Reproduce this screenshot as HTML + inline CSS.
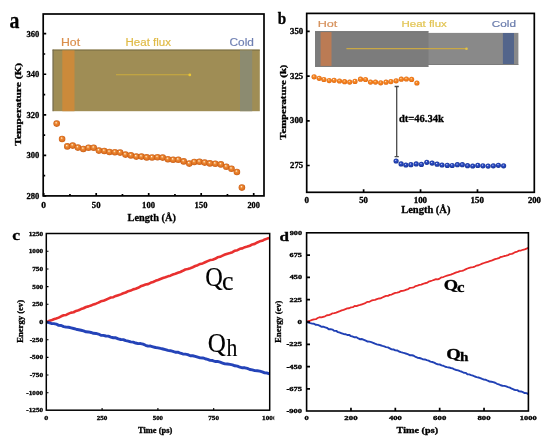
<!DOCTYPE html>
<html><head><meta charset="utf-8"><style>
html,body{margin:0;padding:0;background:#fff;}
svg{display:block;will-change:transform;}
.b{font-family:"Liberation Serif",serif;font-weight:700;}
.r{font-family:"Liberation Serif",serif;font-weight:400;}
.s{font-family:"Liberation Sans",sans-serif;font-weight:400;}
</style></head><body>
<svg width="550" height="442" viewBox="0 0 550 442">
<rect width="550" height="442" fill="#fff"/>
<defs>
<radialGradient id="go" cx="0.5" cy="0.5" r="0.5" fx="0.4" fy="0.33">
<stop offset="0" stop-color="#ffffff"/><stop offset="0.12" stop-color="#fbd2a6"/><stop offset="0.36" stop-color="#ec8a35"/><stop offset="0.78" stop-color="#de7020"/><stop offset="1" stop-color="#c45c16"/></radialGradient>
<radialGradient id="go2" cx="0.5" cy="0.5" r="0.5" fx="0.4" fy="0.33">
<stop offset="0" stop-color="#fff2e0"/><stop offset="0.14" stop-color="#fbbf85"/><stop offset="0.36" stop-color="#f48a2c"/><stop offset="0.8" stop-color="#ef7715"/><stop offset="1" stop-color="#d96610"/></radialGradient>
<radialGradient id="gb" cx="0.5" cy="0.5" r="0.5" fx="0.4" fy="0.33">
<stop offset="0" stop-color="#ffffff"/><stop offset="0.14" stop-color="#9aa8ec"/><stop offset="0.36" stop-color="#2d4cc2"/><stop offset="0.8" stop-color="#1f3eaa"/><stop offset="1" stop-color="#16318e"/></radialGradient>
</defs>
<rect x="52.6" y="49.6" width="207.2" height="61.6" fill="#9f8d55"/>
<rect x="52.6" y="49.6" width="207.2" height="1" fill="#7a6e45"/>
<rect x="52.6" y="49.6" width="0.9" height="61.6" fill="#6a6450"/>
<rect x="62.3" y="50.4" width="12.2" height="60.8" fill="#cb8a3b"/>
<rect x="240" y="50.4" width="12.2" height="60.8" fill="#8c8b70"/>
<line x1="116" y1="74.8" x2="189.5" y2="74.8" stroke="#cbad3e" stroke-width="1.1"/>
<circle cx="189.8" cy="74.9" r="1.4" fill="#ebc634"/>
<path d="M43.2 195.9h3 M43.2 175.62h2 M43.2 155.35h3 M43.2 135.08h2 M43.2 114.8h3 M43.2 94.53h2 M43.2 74.25h3 M43.2 53.98h2 M43.2 33.7h3 M43.7 195.9v-3 M69.95 195.9v-2 M96.2 195.9v-3 M122.45 195.9v-2 M148.7 195.9v-3 M174.95 195.9v-2 M201.2 195.9v-3 M227.45 195.9v-2 M253.7 195.9v-3" stroke="#000" stroke-width="1.7" fill="none"/>
<rect x="43.2" y="14.0" width="220.8" height="181.9" fill="none" stroke="#000" stroke-width="1.7"/>
<circle cx="56.7" cy="123.6" r="3.3" fill="url(#go)"/>
<circle cx="62.1" cy="139" r="3.3" fill="url(#go)"/>
<circle cx="67.3" cy="146.4" r="3.3" fill="url(#go)"/>
<circle cx="72.7" cy="145.6" r="3.3" fill="url(#go)"/>
<circle cx="77.9" cy="147.6" r="3.3" fill="url(#go)"/>
<circle cx="83.3" cy="149" r="3.3" fill="url(#go)"/>
<circle cx="88.5" cy="147.8" r="3.3" fill="url(#go)"/>
<circle cx="93.7" cy="147.8" r="3.3" fill="url(#go)"/>
<circle cx="98.9" cy="150.6" r="3.3" fill="url(#go)"/>
<circle cx="104.3" cy="151" r="3.3" fill="url(#go)"/>
<circle cx="109.5" cy="152" r="3.3" fill="url(#go)"/>
<circle cx="114.9" cy="152.2" r="3.3" fill="url(#go)"/>
<circle cx="120.1" cy="152.6" r="3.3" fill="url(#go)"/>
<circle cx="125.5" cy="154.6" r="3.3" fill="url(#go)"/>
<circle cx="130.9" cy="155.4" r="3.3" fill="url(#go)"/>
<circle cx="136.3" cy="156.6" r="3.3" fill="url(#go)"/>
<circle cx="141.5" cy="156.6" r="3.3" fill="url(#go)"/>
<circle cx="146.7" cy="157.4" r="3.3" fill="url(#go)"/>
<circle cx="152.1" cy="157.5" r="3.3" fill="url(#go)"/>
<circle cx="157.5" cy="157.2" r="3.3" fill="url(#go)"/>
<circle cx="162.7" cy="157.6" r="3.3" fill="url(#go)"/>
<circle cx="167.9" cy="159.2" r="3.3" fill="url(#go)"/>
<circle cx="173.1" cy="159.8" r="3.3" fill="url(#go)"/>
<circle cx="178.3" cy="159.8" r="3.3" fill="url(#go)"/>
<circle cx="183.7" cy="161.4" r="3.3" fill="url(#go)"/>
<circle cx="189.3" cy="163.6" r="3.3" fill="url(#go)"/>
<circle cx="194.3" cy="162" r="3.3" fill="url(#go)"/>
<circle cx="199.5" cy="161.8" r="3.3" fill="url(#go)"/>
<circle cx="204.7" cy="162.6" r="3.3" fill="url(#go)"/>
<circle cx="209.9" cy="163.4" r="3.3" fill="url(#go)"/>
<circle cx="215.3" cy="163.8" r="3.3" fill="url(#go)"/>
<circle cx="220.9" cy="164.4" r="3.3" fill="url(#go)"/>
<circle cx="226.3" cy="166.8" r="3.3" fill="url(#go)"/>
<circle cx="231.5" cy="168.8" r="3.3" fill="url(#go)"/>
<circle cx="236.9" cy="172" r="3.3" fill="url(#go)"/>
<circle cx="241.9" cy="187.6" r="3.3" fill="url(#go)"/>
<rect x="428" y="32.9" width="90.4" height="31.9" fill="#898989"/><rect x="428" y="64" width="90.4" height="0.8" fill="#727272"/>
<rect x="315.0" y="31.3" width="113.5" height="35.4" fill="#7c7c7c"/><rect x="315.0" y="31.3" width="113.5" height="0.8" fill="#6c6c6c"/><rect x="315.0" y="65.9" width="113.5" height="0.8" fill="#6c6c6c"/>
<rect x="320.6" y="32.1" width="10.9" height="33.8" fill="#bb7b54"/>
<rect x="502.9" y="33" width="11.1" height="31" fill="#53658b"/>
<line x1="346.4" y1="48.6" x2="466.3" y2="48.6" stroke="#c9a845" stroke-width="1.1"/>
<circle cx="466.5" cy="48.8" r="1.3" fill="#e3c448"/>
<path d="M306.7 31.47h3 M306.7 76.15h3 M306.7 120.83h3 M306.7 165.5h3 M363.62 192.3v-3 M420.55 192.3v-3 M477.48 192.3v-3" stroke="#000" stroke-width="1.7" fill="none"/>
<rect x="306.7" y="13.4" width="227.6" height="178.9" fill="none" stroke="#000" stroke-width="1.7"/>
<path d="M396.7 86.5V156.6M394.6 86.5h4.2M394.6 156.6h4.2" stroke="#4a4a4a" stroke-width="1.3" fill="none"/>
<circle cx="314.1" cy="76.8" r="2.6" fill="url(#go2)"/>
<circle cx="319.2" cy="78.3" r="2.6" fill="url(#go2)"/>
<circle cx="323.9" cy="79.5" r="2.6" fill="url(#go2)"/>
<circle cx="329.2" cy="80.6" r="2.6" fill="url(#go2)"/>
<circle cx="334.1" cy="80.3" r="2.6" fill="url(#go2)"/>
<circle cx="339.5" cy="81" r="2.6" fill="url(#go2)"/>
<circle cx="344.6" cy="81.7" r="2.6" fill="url(#go2)"/>
<circle cx="349.7" cy="82.1" r="2.6" fill="url(#go2)"/>
<circle cx="355" cy="81.4" r="2.6" fill="url(#go2)"/>
<circle cx="360.5" cy="79.2" r="2.6" fill="url(#go2)"/>
<circle cx="365.5" cy="79.5" r="2.6" fill="url(#go2)"/>
<circle cx="370.5" cy="82.1" r="2.6" fill="url(#go2)"/>
<circle cx="375.5" cy="82.1" r="2.6" fill="url(#go2)"/>
<circle cx="380.7" cy="82.8" r="2.6" fill="url(#go2)"/>
<circle cx="386" cy="82.2" r="2.6" fill="url(#go2)"/>
<circle cx="390.9" cy="81.6" r="2.6" fill="url(#go2)"/>
<circle cx="396.1" cy="80.8" r="2.6" fill="url(#go2)"/>
<circle cx="401.3" cy="79.2" r="2.6" fill="url(#go2)"/>
<circle cx="406.4" cy="79" r="2.6" fill="url(#go2)"/>
<circle cx="411.6" cy="79.4" r="2.6" fill="url(#go2)"/>
<circle cx="416.9" cy="83" r="2.6" fill="url(#go2)"/>
<circle cx="396.1" cy="161" r="2.6" fill="url(#gb)"/>
<circle cx="401.1" cy="163.9" r="2.6" fill="url(#gb)"/>
<circle cx="405.9" cy="165" r="2.6" fill="url(#gb)"/>
<circle cx="410.9" cy="164.7" r="2.6" fill="url(#gb)"/>
<circle cx="416.2" cy="163.9" r="2.6" fill="url(#gb)"/>
<circle cx="421.4" cy="164.4" r="2.6" fill="url(#gb)"/>
<circle cx="426.8" cy="162.3" r="2.6" fill="url(#gb)"/>
<circle cx="432.1" cy="163.1" r="2.6" fill="url(#gb)"/>
<circle cx="437.1" cy="164.2" r="2.6" fill="url(#gb)"/>
<circle cx="442" cy="165" r="2.6" fill="url(#gb)"/>
<circle cx="447.3" cy="165.4" r="2.6" fill="url(#gb)"/>
<circle cx="452.2" cy="165.5" r="2.6" fill="url(#gb)"/>
<circle cx="457.4" cy="164.7" r="2.6" fill="url(#gb)"/>
<circle cx="462.3" cy="164.7" r="2.6" fill="url(#gb)"/>
<circle cx="467.5" cy="165.7" r="2.6" fill="url(#gb)"/>
<circle cx="472.7" cy="166" r="2.6" fill="url(#gb)"/>
<circle cx="477.8" cy="165.4" r="2.6" fill="url(#gb)"/>
<circle cx="482.9" cy="165.8" r="2.6" fill="url(#gb)"/>
<circle cx="488.1" cy="166.1" r="2.6" fill="url(#gb)"/>
<circle cx="493.3" cy="165.8" r="2.6" fill="url(#gb)"/>
<circle cx="498.4" cy="165.3" r="2.6" fill="url(#gb)"/>
<circle cx="503.6" cy="165.8" r="2.6" fill="url(#gb)"/>
<polyline points="46.3,322.2 48.78,321.08 51.26,320.36 53.75,319.3 56.23,318.53 58.71,317.6 61.19,316.28 63.68,315.3 66.16,314.94 68.64,313.6 71.12,312.65 73.6,312.24 76.09,310.94 78.57,310.26 81.05,309.07 83.53,308.25 86.02,306.97 88.5,306.37 90.98,305.6 93.46,304.42 95.94,303.64 98.43,302.65 100.91,301.29 103.39,300.84 105.87,299.78 108.36,298.64 110.84,297.52 113.32,297.17 115.8,295.95 118.28,295.19 120.77,294.37 123.25,293.31 125.73,292.52 128.21,291.22 130.7,290.56 133.18,289.38 135.66,288.78 138.14,287.81 140.62,286.32 143.11,285.42 145.59,284.54 148.07,284.12 150.55,282.82 153.04,282.01 155.52,280.85 158,280.06 160.48,279.03 162.96,278.07 165.45,277.3 167.93,276.36 170.41,275.65 172.89,274.56 175.38,273.79 177.86,272.81 180.34,271.96 182.82,270.8 185.3,269.51 187.79,269.06 190.27,268.2 192.75,267.22 195.23,266.05 197.72,265.21 200.2,263.92 202.68,263.42 205.16,262.3 207.64,261.17 210.13,260.07 212.61,259.69 215.09,258.85 217.57,257.28 220.06,256.84 222.54,255.63 225.02,254.52 227.5,253.68 229.98,253.07 232.47,252.21 234.95,250.69 237.43,250.16 239.91,248.82 242.4,248.36 244.88,247.15 247.36,246.6 249.84,245.73 252.32,244.46 254.81,243.87 257.29,242.45 259.77,241.35 262.25,240.78 264.74,239.45 267.22,238.62 269.7,237.9" fill="none" stroke="#e8302f" stroke-width="2.6" stroke-linejoin="round"/>
<polyline points="46.3,322.2 48.78,322.69 51.26,323.45 53.75,323.61 56.23,324.08 58.71,325.4 61.19,325.47 63.68,326.63 66.16,327.14 68.64,327.25 71.12,327.9 73.6,328.52 76.09,329.21 78.57,329.74 81.05,330.28 83.53,330.91 86.02,331.77 88.5,331.95 90.98,332.46 93.46,333.29 95.94,333.43 98.43,334.06 100.91,335.24 103.39,335.41 105.87,336 108.36,336.09 110.84,337.03 113.32,337.75 115.8,337.82 118.28,338.93 120.77,339.52 123.25,339.58 125.73,340.66 128.21,341.09 130.7,341.85 133.18,342.13 135.66,343.03 138.14,343.63 140.62,343.56 143.11,344.16 145.59,345.29 148.07,346.12 150.55,346.06 153.04,346.81 155.52,347.51 158,347.84 160.48,348.45 162.96,348.98 165.45,349.6 167.93,350.38 170.41,350.69 172.89,351.33 175.38,352.26 177.86,352.16 180.34,353.22 182.82,353.94 185.3,354.14 187.79,354.63 190.27,355.73 192.75,355.79 195.23,356.32 197.72,357.12 200.2,357.92 202.68,357.96 205.16,358.73 207.64,359.32 210.13,360.34 212.61,360.56 215.09,361.51 217.57,361.46 220.06,362.19 222.54,363.04 225.02,363.83 227.5,364.01 229.98,364.38 232.47,364.86 234.95,365.8 237.43,366.07 239.91,367.2 242.4,367.8 244.88,367.78 247.36,368.44 249.84,369.49 252.32,369.91 254.81,370.64 257.29,370.79 259.77,371.17 262.25,371.89 264.74,372.92 267.22,373.02 269.7,373.8" fill="none" stroke="#2443b8" stroke-width="2.9" stroke-linejoin="round"/>
<path d="M46.3 392.72h2.2 M46.3 375.04h2.2 M46.3 357.36h2.2 M46.3 339.68h2.2 M46.3 322h2.2 M46.3 304.32h2.2 M46.3 286.64h2.2 M46.3 268.96h2.2 M46.3 251.28h2.2 M102.1 410.2v-2.2 M157.9 410.2v-2.2 M213.7 410.2v-2.2" stroke="#000" stroke-width="1.1" fill="none"/>
<rect x="46.3" y="233.5" width="223.4" height="176.7" fill="none" stroke="#000" stroke-width="1.5"/>
<text class="s" font-size="11.71" transform="matrix(1.05149 0 0 1.00037 60.915 46.183)" fill="#db8f4c" stroke="#db8f4c" stroke-width="0.2">Hot</text>
<text class="s" font-size="11.29" transform="matrix(1.02245 0 0 1.00022 125.477 46.387)" fill="#e0bb48" stroke="#e0bb48" stroke-width="0.2">Heat flux</text>
<text class="s" font-size="11.7" transform="matrix(1.01331 0 0 1.00006 229.507 46.183)" fill="#6e7fb2" stroke="#6e7fb2" stroke-width="0.2">Cold</text>
<text class="b" font-size="8.89" transform="matrix(0.96643 0 0 0.99988 26.456 198.811)" stroke="#000" stroke-width="0.3">280</text>
<text class="b" font-size="8.89" transform="matrix(0.96643 0 0 0.99988 26.456 158.261)" stroke="#000" stroke-width="0.3">300</text>
<text class="b" font-size="8.89" transform="matrix(0.96643 0 0 0.99988 26.456 117.711)" stroke="#000" stroke-width="0.3">320</text>
<text class="b" font-size="8.89" transform="matrix(0.96643 0 0 0.99988 26.456 77.161)" stroke="#000" stroke-width="0.3">340</text>
<text class="b" font-size="8.89" transform="matrix(0.96643 0 0 0.99988 26.456 36.611)" stroke="#000" stroke-width="0.3">360</text>
<text class="b" font-size="8.44" transform="matrix(1.12841 0 0 1.00053 41.319 207.916)" stroke="#000" stroke-width="0.3">0</text>
<text class="b" font-size="8.44" transform="matrix(1.03029 0 0 1.00053 91.852 207.916)" stroke="#000" stroke-width="0.3">50</text>
<text class="b" font-size="8.44" transform="matrix(1.01312 0 0 1.00053 142.116 207.916)" stroke="#000" stroke-width="0.3">100</text>
<text class="b" font-size="8.44" transform="matrix(1.01312 0 0 1.00053 194.616 207.916)" stroke="#000" stroke-width="0.3">150</text>
<text class="b" font-size="8.44" transform="matrix(0.98458 0 0 1.00053 247.468 207.916)" stroke="#000" stroke-width="0.3">200</text>
<text class="b" font-size="10.95" transform="matrix(0.94181 0 0 1.00022 127.545 221.090)" stroke="#000" stroke-width="0.3">Length (&#197;)</text>
<text class="b" font-size="7.44" transform="matrix(0 -1.53850 1.00060 0 21.137 145.672)" stroke="#000" stroke-width="0.3">Temperature (K)</text>
<text class="b" font-size="23.79" transform="matrix(0.83145 0 0 0.99998 9.407 27.981)" stroke="#000" stroke-width="0.3">a</text>
<text class="s" font-size="9.86" transform="matrix(1.28327 0 0 0.99971 317.688 27.201)" fill="#d6915c" stroke="#d6915c" stroke-width="0.2">Hot</text>
<text class="s" font-size="9.52" transform="matrix(1.20710 0 0 1.00040 401.481 27.305)" fill="#e2c452" stroke="#e2c452" stroke-width="0.2">Heat flux</text>
<text class="s" font-size="9.66" transform="matrix(1.21662 0 0 0.99999 491.812 27.103)" fill="#6a7cac" stroke="#6a7cac" stroke-width="0.2">Cold</text>
<text class="b" font-size="7.7" transform="matrix(1.14322 0 0 1.00048 290.048 33.998)" stroke="#000" stroke-width="0.3">350</text>
<text class="b" font-size="7.76" transform="matrix(1.13040 0 0 1.00015 290.049 78.672)" stroke="#000" stroke-width="0.3">325</text>
<text class="b" font-size="7.7" transform="matrix(1.14322 0 0 1.00048 290.048 123.348)" stroke="#000" stroke-width="0.3">300</text>
<text class="b" font-size="7.76" transform="matrix(1.13040 0 0 1.00015 290.049 168.022)" stroke="#000" stroke-width="0.3">275</text>
<text class="b" font-size="7.41" transform="matrix(1.22100 0 0 0.99965 304.438 202.726)" stroke="#000" stroke-width="0.3">0</text>
<text class="b" font-size="7.41" transform="matrix(1.17350 0 0 0.99965 359.277 202.726)" stroke="#000" stroke-width="0.3">50</text>
<text class="b" font-size="7.41" transform="matrix(1.20284 0 0 0.99965 413.687 202.726)" stroke="#000" stroke-width="0.3">100</text>
<text class="b" font-size="7.41" transform="matrix(1.20284 0 0 0.99965 470.612 202.726)" stroke="#000" stroke-width="0.3">150</text>
<text class="b" font-size="7.41" transform="matrix(1.16896 0 0 0.99965 527.904 202.726)" stroke="#000" stroke-width="0.3">200</text>
<text class="b" font-size="10.48" transform="matrix(1.00258 0 0 0.99964 401.142 212.995)" stroke="#000" stroke-width="0.3">Length (&#197;)</text>
<text class="b" font-size="8.0" transform="matrix(0 -1.33967 1.00000 0 285.720 139.761)" stroke="#000" stroke-width="0.3">Temperature (k)</text>
<text class="b" font-size="16.71" transform="matrix(0.90963 0 0 1.00026 277.772 24.033)" stroke="#000" stroke-width="0.3">b</text>
<text class="b" font-size="10.78" transform="matrix(0.98144 0 0 1.00001 398.877 121.538)" stroke="#000" stroke-width="0.3">dt=46.34k</text>
<text class="b" font-size="6.37" transform="matrix(1.13224 0 0 1.00006 26.348 412.486)" stroke="#000" stroke-width="0.3">-1250</text>
<text class="b" font-size="6.37" transform="matrix(1.13224 0 0 1.00006 26.348 394.806)" stroke="#000" stroke-width="0.3">-1000</text>
<text class="b" font-size="6.37" transform="matrix(1.15955 0 0 1.00006 29.641 377.126)" stroke="#000" stroke-width="0.3">-750</text>
<text class="b" font-size="6.37" transform="matrix(1.15955 0 0 1.00006 29.641 359.446)" stroke="#000" stroke-width="0.3">-500</text>
<text class="b" font-size="6.37" transform="matrix(1.15955 0 0 1.00006 29.641 341.766)" stroke="#000" stroke-width="0.3">-250</text>
<text class="b" font-size="6.37" transform="matrix(1.27084 0 0 1.00006 39.176 324.086)" stroke="#000" stroke-width="0.3">0</text>
<text class="b" font-size="6.37" transform="matrix(1.13870 0 0 1.00006 32.310 306.406)" stroke="#000" stroke-width="0.3">250</text>
<text class="b" font-size="6.37" transform="matrix(1.13870 0 0 1.00006 32.310 288.726)" stroke="#000" stroke-width="0.3">500</text>
<text class="b" font-size="6.37" transform="matrix(1.15086 0 0 1.00006 32.197 271.046)" stroke="#000" stroke-width="0.3">750</text>
<text class="b" font-size="6.37" transform="matrix(1.13564 0 0 1.00006 28.721 253.366)" stroke="#000" stroke-width="0.3">1000</text>
<text class="b" font-size="6.37" transform="matrix(1.13564 0 0 1.00006 28.721 235.686)" stroke="#000" stroke-width="0.3">1250</text>
<text class="b" font-size="6.81" transform="matrix(1.18873 0 0 1.00071 44.276 419.932)" stroke="#000" stroke-width="0.3">0</text>
<text class="b" font-size="6.81" transform="matrix(1.04445 0 0 1.00071 96.765 419.932)" stroke="#000" stroke-width="0.3">250</text>
<text class="b" font-size="6.81" transform="matrix(1.01342 0 0 1.00071 152.724 419.932)" stroke="#000" stroke-width="0.3">500</text>
<text class="b" font-size="6.81" transform="matrix(1.05560 0 0 1.00071 208.255 419.932)" stroke="#000" stroke-width="0.3">750</text>
<text class="b" font-size="6.81" transform="matrix(1.06227 0 0 1.00071 262.121 419.932)" stroke="#000" stroke-width="0.3">1000</text>
<text class="b" font-size="8.11" transform="matrix(1.03754 0 0 1.00014 138.074 432.697)" stroke="#000" stroke-width="0.3">Time (ps)</text>
<text class="b" font-size="8.02" transform="matrix(0 -1.07674 1.00025 0 22.935 342.830)" stroke="#000" stroke-width="0.3">Energy (ev)</text>
<text class="b" font-size="15.62" transform="matrix(1.13075 0 0 1.00032 12.282 240.444)" stroke="#000" stroke-width="0.3">c</text>
<text class="r" font-size="26.59" transform="matrix(0.91617 0 0 0.99983 205.126 286.346)" stroke="#000" stroke-width="0.15">Q</text>
<text class="r" font-size="26.46" transform="matrix(0.97758 0 0 0.99994 221.965 289.735)" stroke="#000" stroke-width="0.15">c</text>
<text class="r" font-size="26.95" transform="matrix(0.93183 0 0 1.00005 207.695 352.488)" stroke="#000" stroke-width="0.15">Q</text>
<text class="r" font-size="24.64" transform="matrix(0.88004 0 0 0.99991 226.383 355.923)" stroke="#000" stroke-width="0.15">h</text>
<rect x="274.3" y="405" width="8" height="37" fill="#fff"/>
<polyline points="306.6,321.8 308.45,321.09 310.3,320.55 312.15,319.96 313.99,319.36 315.84,319.18 317.69,317.98 319.54,317.26 321.39,317.42 323.24,316.78 325.08,316.27 326.93,315.24 328.78,315.06 330.63,314.45 332.48,313.29 334.33,313.12 336.17,312.6 338.02,311.86 339.87,311.15 341.72,310.38 343.57,309.82 345.42,309.14 347.26,308.41 349.11,308.23 350.96,307.4 352.81,307.22 354.66,306.01 356.5,306.1 358.35,305.33 360.2,304.92 362.05,304.3 363.9,303.7 365.75,302.84 367.6,301.79 369.44,301.78 371.29,300.72 373.14,300.22 374.99,299.91 376.84,299.19 378.69,298.5 380.53,298.32 382.38,297.45 384.23,296.63 386.08,295.95 387.93,295.83 389.77,294.92 391.62,294.55 393.47,293.6 395.32,292.87 397.17,292.53 399.02,292.14 400.87,291.02 402.71,290.9 404.56,290.39 406.41,289.69 408.26,289.09 410.11,287.82 411.95,287.7 413.8,287.27 415.65,286.01 417.5,285.57 419.35,284.95 421.2,284.54 423.05,283.83 424.89,283.25 426.74,282.88 428.59,281.63 430.44,281.05 432.29,280.49 434.13,279.86 435.98,279.2 437.83,279.3 439.68,278.57 441.53,277.33 443.38,277.04 445.23,276.26 447.07,275.64 448.92,275.04 450.77,274.64 452.62,273.97 454.47,273.15 456.31,272.39 458.16,271.87 460.01,271.07 461.86,270.78 463.71,270.28 465.56,269.38 467.4,268.5 469.25,267.95 471.1,267.47 472.95,267.02 474.8,266.52 476.65,265.56 478.5,265.26 480.34,264.48 482.19,263.69 484.04,263.01 485.89,262.47 487.74,261.99 489.58,261.13 491.43,260.71 493.28,259.88 495.13,259.07 496.98,258.66 498.83,258.14 500.67,257 502.52,256.64 504.37,256 506.22,255.72 508.07,255.13 509.92,254.03 511.76,253.81 513.61,253.08 515.46,252.01 517.31,251.53 519.16,250.62 521.01,250.53 522.86,249.76 524.7,249.3 526.55,248.58 528.4,247.7" fill="none" stroke="#e82a2a" stroke-width="1.8" stroke-linejoin="round"/>
<polyline points="306.6,321.8 308.45,322.54 310.3,323.18 312.15,323.62 313.99,323.79 315.84,324.81 317.69,324.88 319.54,325.59 321.39,326.74 323.24,326.67 325.08,327.3 326.93,327.9 328.78,329.19 330.63,329.14 332.48,329.59 334.33,330.92 336.17,330.86 338.02,332.09 339.87,332.53 341.72,333.26 343.57,333.96 345.42,334.21 347.26,335 349.11,334.9 350.96,336.15 352.81,336.51 354.66,337.28 356.5,337.32 358.35,338.49 360.2,339.25 362.05,339.06 363.9,339.88 365.75,340.69 367.6,341.52 369.44,341.59 371.29,342.12 373.14,342.78 374.99,343.7 376.84,344.42 378.69,344.69 380.53,345.26 382.38,345.88 384.23,346.44 386.08,347.09 387.93,347.39 389.77,348.36 391.62,349.38 393.47,349.47 395.32,350.37 397.17,350.44 399.02,351.52 400.87,352.17 402.71,352.7 404.56,353.16 406.41,353.73 408.26,354.47 410.11,355.3 411.95,355.23 413.8,355.78 415.65,356.97 417.5,357.72 419.35,357.97 421.2,358.5 423.05,359.36 424.89,359.48 426.74,360.16 428.59,360.7 430.44,361.65 432.29,362.02 434.13,362.55 435.98,363.57 437.83,364.41 439.68,364.43 441.53,365.4 443.38,365.75 445.23,366.75 447.07,367.12 448.92,367.44 450.77,368.01 452.62,368.44 454.47,369.46 456.31,369.99 458.16,370.41 460.01,371.19 461.86,371.76 463.71,372.78 465.56,372.83 467.4,374.2 469.25,374.36 471.1,375.08 472.95,375.57 474.8,376.52 476.65,377.12 478.5,377.49 480.34,378.04 482.19,378.87 484.04,379.61 485.89,379.81 487.74,380.73 489.58,381.55 491.43,381.72 493.28,382.12 495.13,382.74 496.98,383.8 498.83,384.37 500.67,385.25 502.52,385.77 504.37,385.84 506.22,386.41 508.07,387.08 509.92,387.64 511.76,388.72 513.61,389.48 515.46,390.13 517.31,390.17 519.16,391.34 521.01,391.46 522.86,392.18 524.7,393.07 526.55,393.11 528.4,394.1" fill="none" stroke="#2040b4" stroke-width="1.9" stroke-linejoin="round"/>
<path d="M306.6 388.96h3.4 M306.6 366.64h3.4 M306.6 344.32h3.4 M306.6 322h3.4 M306.6 299.68h3.4 M306.6 277.36h3.4 M306.6 255.04h3.4 M350.96 411v-3.2 M395.32 411v-3.2 M439.68 411v-3.2 M484.04 411v-3.2" stroke="#000" stroke-width="1.7" fill="none"/>
<rect x="306.6" y="232.8" width="221.8" height="178.2" fill="none" stroke="#000" stroke-width="1.6"/>
<text class="b" font-size="6.07" transform="matrix(1.40407 0 0 1.00067 286.402 413.269)" stroke="#000" stroke-width="0.3">-900</text>
<text class="b" font-size="6.12" transform="matrix(1.39260 0 0 0.99990 286.402 390.949)" stroke="#000" stroke-width="0.3">-675</text>
<text class="b" font-size="6.07" transform="matrix(1.40407 0 0 1.00067 286.402 368.629)" stroke="#000" stroke-width="0.3">-450</text>
<text class="b" font-size="6.12" transform="matrix(1.39260 0 0 0.99990 286.402 346.309)" stroke="#000" stroke-width="0.3">-225</text>
<text class="b" font-size="6.07" transform="matrix(1.49055 0 0 1.00067 297.538 323.989)" stroke="#000" stroke-width="0.3">0</text>
<text class="b" font-size="6.12" transform="matrix(1.35306 0 0 0.99990 289.569 301.669)" stroke="#000" stroke-width="0.3">225</text>
<text class="b" font-size="6.07" transform="matrix(1.34532 0 0 1.00067 289.778 279.349)" stroke="#000" stroke-width="0.3">450</text>
<text class="b" font-size="6.12" transform="matrix(1.34832 0 0 0.99990 289.611 257.029)" stroke="#000" stroke-width="0.3">675</text>
<text class="b" font-size="6.07" transform="matrix(1.35943 0 0 1.00067 289.652 234.709)" stroke="#000" stroke-width="0.3">900</text>
<text class="b" font-size="5.93" transform="matrix(1.44543 0 0 0.99931 304.457 419.841)" stroke="#000" stroke-width="0.3">0</text>
<text class="b" font-size="5.93" transform="matrix(1.48445 0 0 0.99931 344.358 419.841)" stroke="#000" stroke-width="0.3">200</text>
<text class="b" font-size="5.93" transform="matrix(1.45877 0 0 0.99931 388.940 419.841)" stroke="#000" stroke-width="0.3">400</text>
<text class="b" font-size="5.93" transform="matrix(1.47925 0 0 0.99931 433.123 419.841)" stroke="#000" stroke-width="0.3">600</text>
<text class="b" font-size="5.93" transform="matrix(1.47925 0 0 0.99931 477.483 419.841)" stroke="#000" stroke-width="0.3">800</text>
<text class="b" font-size="5.93" transform="matrix(1.41724 0 0 0.99931 519.828 419.841)" stroke="#000" stroke-width="0.3">1000</text>
<text class="b" font-size="8.0" transform="matrix(1.27965 0 0 1.00000 396.546 432.820)" stroke="#000" stroke-width="0.3">Time (ps)</text>
<text class="b" font-size="8.68" transform="matrix(0 -0.97140 1.00015 0 281.390 342.626)" stroke="#000" stroke-width="0.3">Energy (ev)</text>
<text class="b" font-size="13.0" transform="matrix(1.30998 0 0 1.00000 279.519 241.470)" stroke="#000" stroke-width="0.3">d</text>
<text class="b" font-size="14.3" transform="matrix(1.28630 0 0 1.00021 443.680 290.112)" stroke="#000" stroke-width="0.3">Q</text>
<text class="b" font-size="14.37" transform="matrix(1.17489 0 0 1.00035 456.909 292.256)" stroke="#000" stroke-width="0.3">c</text>
<text class="b" font-size="13.94" transform="matrix(1.34047 0 0 0.99996 446.166 358.870)" stroke="#000" stroke-width="0.3">Q</text>
<text class="b" font-size="12.61" transform="matrix(1.20108 0 0 0.99990 459.921 360.800)" stroke="#000" stroke-width="0.3">h</text>
</svg>
</body></html>
